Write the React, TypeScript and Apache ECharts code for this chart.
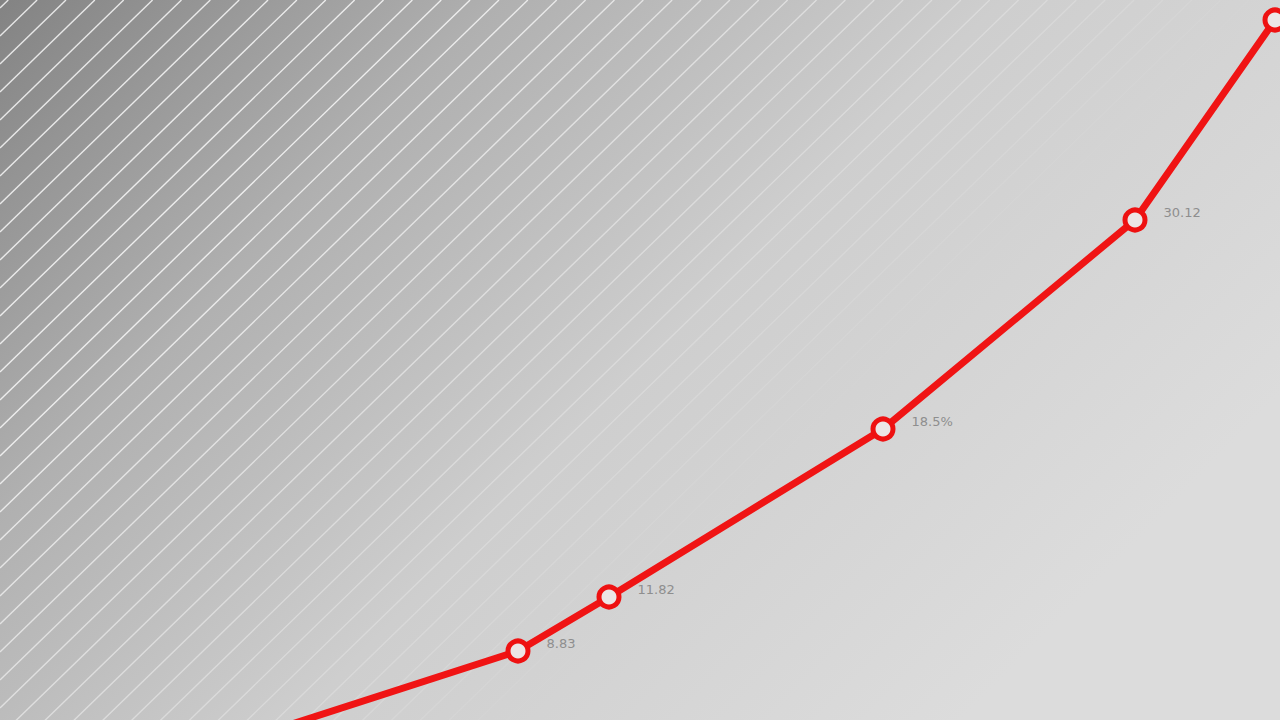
import React, { useEffect, useRef } from 'react';
import * as echarts from 'echarts';

// x positions (hidden value axis 0..12.8) and y values (hidden value axis 0..72)
const xValues = [1.0, 5.18, 6.09, 8.83, 11.35, 12.75];
const yValues = [-6.6, 6.9, 12.3, 29.1, 50.0, 70.0];
const pointLabels = ['', '8.83', '11.82', '18.5%', '30.12', ''];
const hiddenPoints = [true, false, false, false, false, false];

const buildHatch = () => {
  const lines: any[] = [];
  const slope = 0.97;
  for (let c = -20; c < 1400; c += 28) {
    const t = Math.min(1, Math.max(0, 1 - (c - 440) / 800));
    if (t <= 0) continue;
    lines.push({
      type: 'line',
      silent: true,
      shape: { x1: 0, y1: c, x2: c / slope, y2: 0 },
      style: { stroke: '#ffffff', lineWidth: 1.4, opacity: 0.8 * t },
    });
  }
  return lines;
};

const App: React.FC = () => {
  const chartRef = useRef<HTMLDivElement>(null);

  useEffect(() => {
    if (!chartRef.current) return;
    const chart = echarts.init(chartRef.current, undefined, { renderer: 'svg' });

    const data = xValues.map((x, i) => ({
      value: [x, yValues[i]],
      symbol: hiddenPoints[i] ? 'none' : 'circle',
      label: { show: pointLabels[i] !== '', formatter: pointLabels[i] },
    }));

    chart.setOption({
      animation: false,
      backgroundColor: {
        type: 'linear',
        x: 0,
        y: 0,
        x2: 1,
        y2: 0.55,
        colorStops: [
          { offset: 0, color: '#838383' },
          { offset: 0.3, color: '#b0b0b0' },
          { offset: 0.6, color: '#cecece' },
          { offset: 1, color: '#dcdcdc' },
        ],
      },
      graphic: [{ type: 'group', z: 0, silent: true, children: buildHatch() }],
      grid: { left: 0, right: 0, top: 0, bottom: 0 },
      xAxis: { type: 'value', min: 0, max: 12.8, show: false },
      yAxis: { type: 'value', min: 0, max: 72, show: false },
      series: [
        {
          type: 'line',
          data,
          clip: true,
          symbolSize: 20,
          lineStyle: { color: '#f01414', width: 7 },
          itemStyle: { color: '#ece6e6', borderColor: '#ee1111', borderWidth: 5 },
          label: {
            position: 'right',
            distance: 16,
            offset: [0, -8],
            color: '#8e8e8e',
            fontSize: 13,
            fontFamily: 'DejaVu Sans',
          },
          z: 5,
        },
      ],
    });

    return () => chart.dispose();
  }, []);

  return (
    <div
      ref={chartRef}
      style={{ position: 'fixed', left: 0, top: 0, width: '1280px', height: '720px' }}
    />
  );
};

export default App;
